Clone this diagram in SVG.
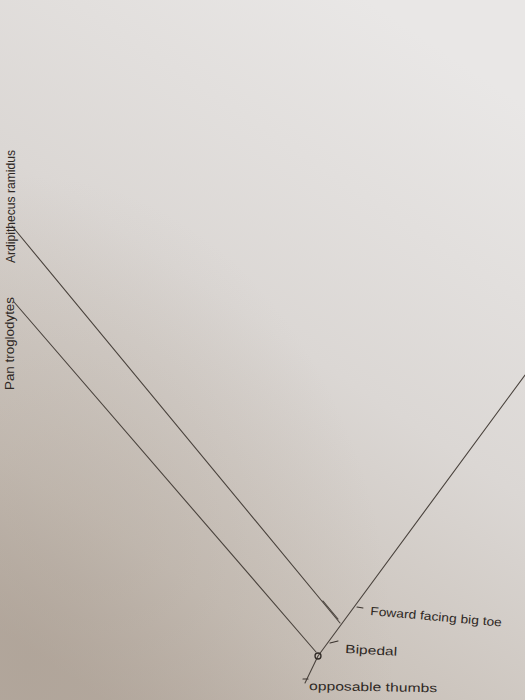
<svg xmlns="http://www.w3.org/2000/svg" width="525" height="700" viewBox="0 0 525 700">
  <defs>
    <linearGradient id="paper" x1="0.7" y1="0" x2="0.2" y2="1">
      <stop offset="0" stop-color="#e9e7e6"/>
      <stop offset="0.45" stop-color="#dbd7d4"/>
      <stop offset="0.8" stop-color="#c9c1b9"/>
      <stop offset="1" stop-color="#b8ada3"/>
    </linearGradient>
    <radialGradient id="shade" cx="0.05" cy="0.95" r="0.7">
      <stop offset="0" stop-color="#a99d91" stop-opacity="0.5"/>
      <stop offset="1" stop-color="#a99d91" stop-opacity="0"/>
    </radialGradient>
  </defs>
  <style>
    .ln { fill: none; stroke: #4a433d; stroke-width: 1.1; stroke-linecap: round; stroke-linejoin: round; }
    .tk { fill: none; stroke: #3a332e; stroke-width: 1.1; stroke-linecap: round; }
    .lbl { font-family: "Liberation Sans", "DejaVu Sans", sans-serif; font-size: 12px; fill: #2f2925; }
  </style>
  <rect width="525" height="700" fill="url(#paper)"/>
  <rect width="525" height="700" fill="url(#shade)"/>

  <g id="connectors">
    <polyline class="ln" points="305,683 318,656 525,375"/>
    <line class="ln" x1="12" y1="226" x2="340" y2="623"/>
    <line class="ln" x1="323" y1="601" x2="338" y2="619" stroke-width="0.8"/>
    <line class="ln" x1="14" y1="302" x2="316" y2="652"/>
    <path class="tk" d="M357,607 L363,608"/>
    <path class="tk" d="M330,643 L338,641"/>
    <path class="tk" d="M303,679 L308,679"/>
  </g>

  <g id="node-root">
    <circle cx="318" cy="656" r="3" fill="none" stroke="#2f2925" stroke-width="1.3"/>
  </g>

  <g id="taxon-ardipithecus">
    <text class="lbl" transform="translate(15,263) rotate(-90)" textLength="113" lengthAdjust="spacingAndGlyphs">Ardipithecus ramidus</text>
  </g>
  <g id="taxon-pan">
    <text class="lbl" transform="translate(14,390) rotate(-90)" textLength="93" lengthAdjust="spacingAndGlyphs">Pan troglodytes</text>
  </g>

  <g id="trait-big-toe">
    <text class="lbl" transform="translate(370,615) rotate(5)" textLength="132" lengthAdjust="spacingAndGlyphs">Foward facing big toe</text>
  </g>
  <g id="trait-bipedal">
    <text class="lbl" transform="translate(345,653) rotate(3)" textLength="52" lengthAdjust="spacingAndGlyphs">Bipedal</text>
  </g>
  <g id="trait-thumbs">
    <text class="lbl" transform="translate(309,690) rotate(1)" textLength="128" lengthAdjust="spacingAndGlyphs">opposable thumbs</text>
  </g>
</svg>
